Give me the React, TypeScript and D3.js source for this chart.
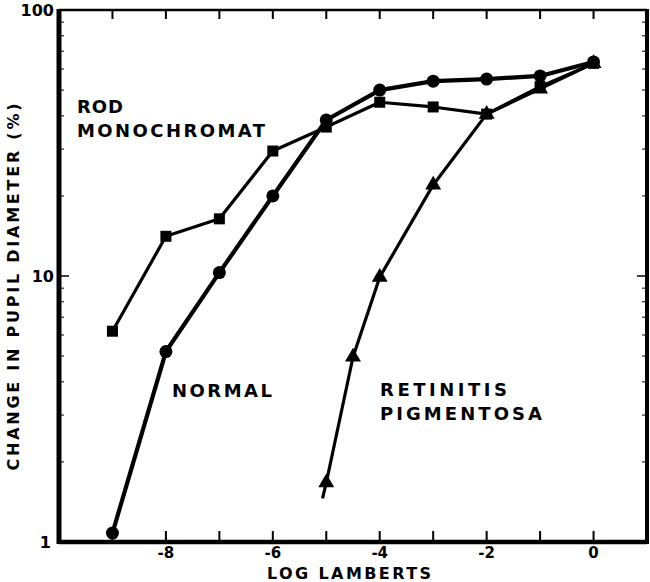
import * as d3 from "d3";

// x axis: log lamberts, y axis: change in pupil diameter (%), log scale
const xTicks = [-9, -8, -7, -6, -5, -4, -3, -2, -1, 0];
const xTickLabels = ["-8", "-6", "-4", "-2", "0"];
const yTicks = [1, 10, 100];
const yMinor = [2, 3, 4, 5, 6, 7, 8, 9, 20, 30, 40, 50, 60, 70, 80, 90];

const normalX = [-9, -8, -7, -6, -5, -4, -3, -2, -1, 0];
const normalY = [1.08, 5.2, 10.3, 20, 38.6, 50, 54, 55, 56.5, 63.8];

const rodX = [-9, -8, -7, -6, -5, -4, -3, -2, -1, 0];
const rodY = [6.2, 14.1, 16.4, 29.5, 36.3, 45, 43.2, 40.6, 51.5, 63];

const rpX = [-5, -4.5, -4, -3, -2, -1, 0];
const rpY = [1.67, 4.96, 9.9, 22, 40.6, 50.5, 63];
// the RP curve is drawn a little below its first triangle
const rpTailX = -5.07;
const rpTailY = 1.46;

const W = 650;
const H = 582;
const FONT = "'DejaVu Sans', sans-serif";

export default function App() {
  const x = d3.scaleLinear().domain([-10, 1]).range([59, 647]);
  const y = d3.scaleLog().domain([1, 100]).range([542, 10]);

  const line = d3
    .line<[number, number]>()
    .x((d) => x(d[0]))
    .y((d) => y(d[1]));

  const normal = normalX.map((v, i) => [v, normalY[i]] as [number, number]);
  const rod = rodX.map((v, i) => [v, rodY[i]] as [number, number]);
  const rp = rpX.map((v, i) => [v, rpY[i]] as [number, number]);
  const rpLine: [number, number][] = [[rpTailX, rpTailY], ...rp];

  const tri = d3.symbol().type(d3.symbolTriangle).size(110);

  const [x0, x1] = x.range();
  const [y0, y1] = y.range();

  return (
    <svg
      width={W}
      height={H}
      style={{ position: "absolute", left: 0, top: 0, background: "#fff" }}
      fontFamily={FONT}
      fontWeight="bold"
    >
      {/* frame */}
      <line x1={x0} x2={x1} y1={y1} y2={y1} stroke="#000" strokeWidth={2.5} />
      <line x1={x0} x2={x1} y1={y0} y2={y0} stroke="#000" strokeWidth={4.5} />
      <line x1={x0} x2={x0} y1={y1 - 1} y2={y0 + 2} stroke="#000" strokeWidth={5} />
      <line x1={x1} x2={x1} y1={y1 - 1} y2={y0 + 2} stroke="#000" strokeWidth={4} />

      {/* x ticks */}
      {xTicks.map((t) => (
        <g key={"xt" + t}>
          <line x1={x(t)} x2={x(t)} y1={y0} y2={y0 - 11} stroke="#000" strokeWidth={2} />
          <line x1={x(t)} x2={x(t)} y1={y1} y2={y1 + 9} stroke="#000" strokeWidth={2} />
        </g>
      ))}
      {xTickLabels.map((t) => (
        <text key={"xl" + t} x={x(+t)} y={558} textAnchor="middle" fontSize={15}>
          {t}
        </text>
      ))}

      {/* y ticks */}
      {yTicks.map((t) => (
        <g key={"yt" + t}>
          {t === 10 && (
            <>
              <line x1={x0} x2={x0 + 10} y1={y(t)} y2={y(t)} stroke="#000" strokeWidth={1.5} />
              <line x1={x1} x2={x1 - 10} y1={y(t)} y2={y(t)} stroke="#000" strokeWidth={1.5} />
            </>
          )}
          <text x={t === 1 ? 51 : 54} y={y(t) + 6} textAnchor="end" fontSize={16}>
            {String(t)}
          </text>
        </g>
      ))}
      {yMinor.map((t) => (
        <g key={"ym" + t}>
          <line x1={x0 + 2} x2={x0 + 5} y1={y(t)} y2={y(t)} stroke="#000" strokeWidth={1} />
          <line x1={x1 - 2} x2={x1 - 5} y1={y(t)} y2={y(t)} stroke="#000" strokeWidth={1} />
        </g>
      ))}

      {/* axis titles */}
      <text x={349} y={579} textAnchor="middle" fontSize={16} textLength={164} lengthAdjust="spacing">
        LOG LAMBERTS
      </text>
      <text
        transform={`translate(19,287) rotate(-90)`}
        textAnchor="middle"
        fontSize={16}
        textLength={367}
        lengthAdjust="spacing"
      >
        CHANGE IN PUPIL DIAMETER (%)
      </text>

      {/* curves */}
      <path d={line(rod) ?? ""} fill="none" stroke="#000" strokeWidth={3.2} strokeLinejoin="round" />
      <path d={line(normal) ?? ""} fill="none" stroke="#000" strokeWidth={4.2} strokeLinejoin="round" />
      <path d={line(rpLine) ?? ""} fill="none" stroke="#000" strokeWidth={3.2} strokeLinejoin="round" />

      {rod.map((d, i) => (
        <rect key={"r" + i} x={x(d[0]) - 5.5} y={y(d[1]) - 5.5} width={11} height={11} fill="#000" />
      ))}
      {normal.map((d, i) => (
        <circle key={"n" + i} cx={x(d[0])} cy={y(d[1])} r={6.5} fill="#000" />
      ))}
      {rp.map((d, i) => (
        <path key={"p" + i} d={tri() ?? ""} transform={`translate(${x(d[0])},${y(d[1])})`} fill="#000" />
      ))}

      {/* curve labels */}
      <g fontSize={18}>
        <text x={77} y={113} textLength={46} lengthAdjust="spacing">ROD</text>
        <text x={77} y={137} textLength={188} lengthAdjust="spacing">MONOCHROMAT</text>
        <text x={172} y={397} textLength={100} lengthAdjust="spacing">NORMAL</text>
        <text x={380} y={396} textLength={127} lengthAdjust="spacing">RETINITIS</text>
        <text x={380} y={420} textLength={162} lengthAdjust="spacing">PIGMENTOSA</text>
      </g>
    </svg>
  );
}
